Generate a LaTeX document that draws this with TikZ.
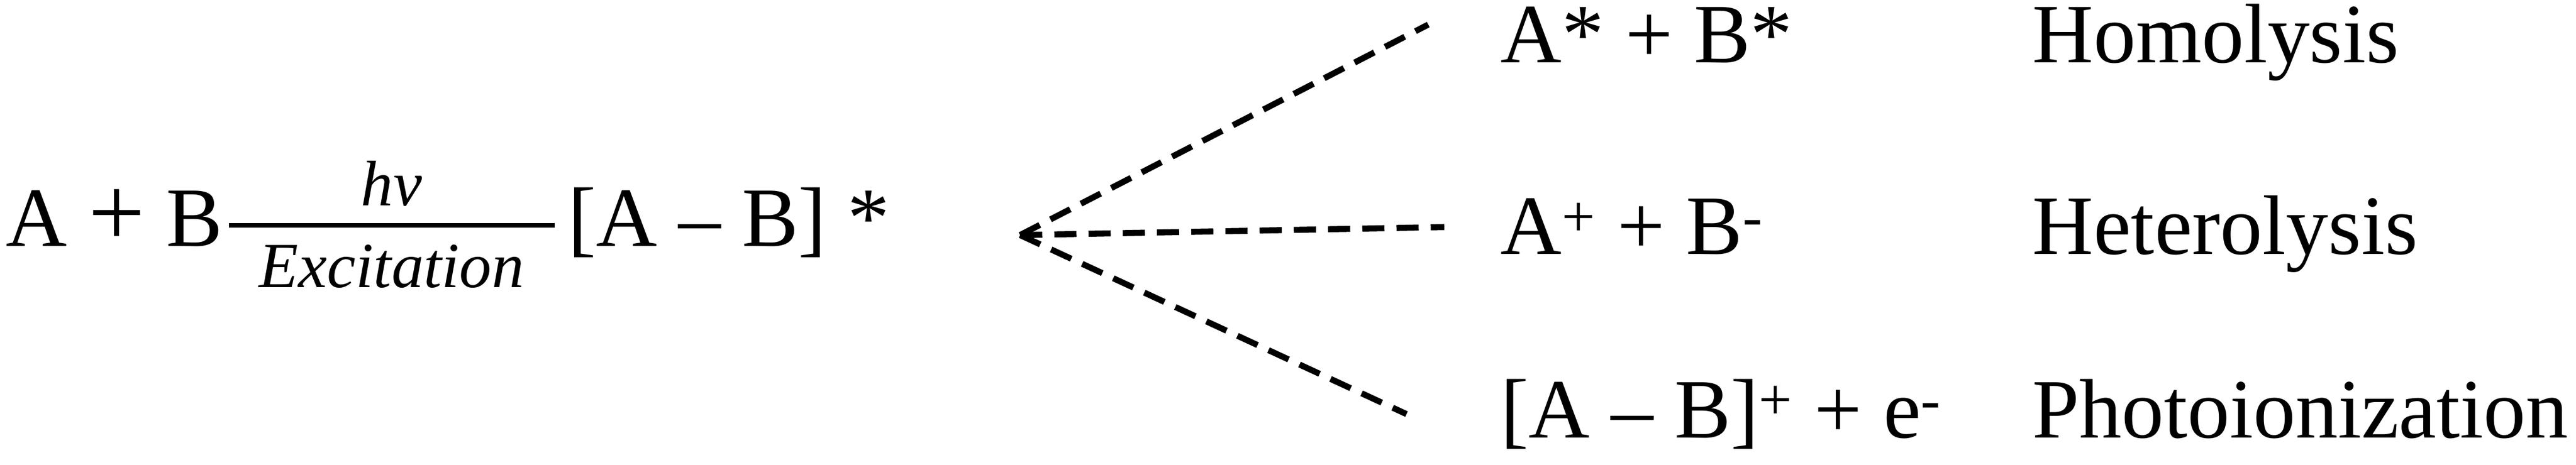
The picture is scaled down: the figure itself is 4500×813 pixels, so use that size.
\documentclass[tikz,border=0pt]{standalone}
\usepackage{fontspec}
\setmainfont{Liberation Serif}
\begin{document}
\begin{tikzpicture}[x=0.01cm,y=-0.01cm,
  txt/.style={anchor=base west,inner sep=0pt,font=\fontsize{42}{46}\selectfont},
  small/.style={anchor=base,inner sep=0pt,font=\fontsize{32}{36}\selectfont\itshape},
  dsh/.style={line width=3pt,dash pattern=on 11pt off 6pt}]
\useasboundingbox (0,0) rectangle (4500,813);
\node[txt] (ab) at (10,431) {A {\fontsize{50}{54}\selectfont +} B};
\coordinate (f1) at (400,394);
\coordinate (f2) at (969,394);
\draw[line width=2.5pt] (f1) -- (f2);
\node[small] (hv) at (684,360) {hν};
\node[small] (ex) at (684,503) {Excitation};
\node[txt] (ex1) at (992,431) {[A – B] *};
\coordinate (o) at (1782,411);
\coordinate (e1) at (2495,43);
\coordinate (e2) at (2523,397);
\coordinate (e3) at (2457,724);
\draw[dsh] (o) -- (e1);
\draw[dsh] (o) -- (e2);
\draw[dsh] (o) -- (e3);
\node[txt] (p1) at (2621,110) {A* + B*};
\node[txt] (p2) at (2621,445) {A\textsuperscript{+} + B\textsuperscript{-}};
\node[txt] (p3) at (2621,765) {[A – B]\textsuperscript{+} + e\textsuperscript{-}};
\node[txt] (l1) at (3550,110) {Homolysis};
\node[txt] (l2) at (3550,445) {Heterolysis};
\node[txt] (l3) at (3550,765) {Photoionization};
\end{tikzpicture}
\end{document}
